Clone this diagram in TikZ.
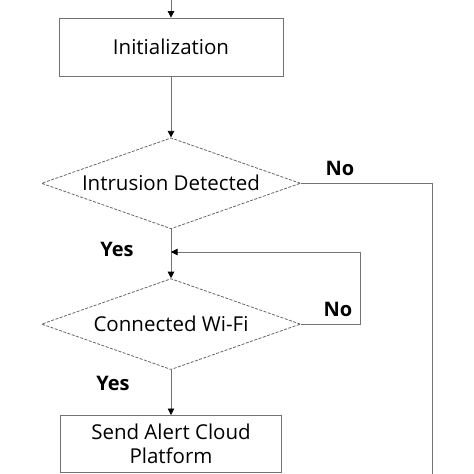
\documentclass[tikz,border=0pt]{standalone}
\usepackage{fontspec}
\setmainfont{Open Sans}
\usetikzlibrary{arrows.meta,positioning,shapes.geometric}
\tikzset{
flow/.style={x=1pt,y=-1pt,>={Triangle[length=6.5pt,width=6.5pt,color=black]},
line width=0.8pt,font=\fontsize{20.5}{24}\selectfont},
process/.style={rectangle,draw=black!55,minimum width=224pt,minimum height=58pt,
align=center,text=black,inner sep=2pt},
decision/.style={diamond,aspect=2.85,draw=black!60,dash pattern=on 3pt off 1.5pt,
minimum width=259pt,minimum height=91pt,inner sep=0pt,text=black},
link/.style={draw=black!55},
answer/.style={font=\fontsize{20}{24}\selectfont\bfseries,text=black},
}
\begin{document}
\begin{tikzpicture}[flow]
\useasboundingbox (0,0) rectangle (474,474);
\coordinate (start) at (171,-10);
\node[process] (init) at (171,47) {Initialization};
\node[decision] (intrusion) [below=61pt of init] {Intrusion Detected};
\node[decision] (wifi) [below=49pt of intrusion] {Connected Wi-Fi};
\node[process,minimum width=221pt,minimum height=57pt,line width=1.2pt] (send) [below=45pt of wifi]
  {Send Alert Cloud\\Platform};
\coordinate (merge) at (intrusion.south |- 0,252);
\coordinate (loop) at (360,0);
\coordinate (exit) at (432,0);
\coordinate (bottom) at (432,480);

\path[link,->] (start) edge (init)
  (init) edge (intrusion)
  (intrusion) edge (wifi)
  (wifi) edge (send);
\draw[link] (intrusion.east) -- (exit |- intrusion.east) -- (bottom);
\draw[link,->] (wifi.east) -- (loop |- wifi.east) -- (loop |- merge) -- (merge);

\node[answer] (no1) at (340,168) {No};
\node[answer] (yes1) at (117,249) {Yes};
\node[answer] (no2) at (338,309) {No};
\node[answer] (yes2) at (113,383) {Yes};
\end{tikzpicture}
\end{document}
